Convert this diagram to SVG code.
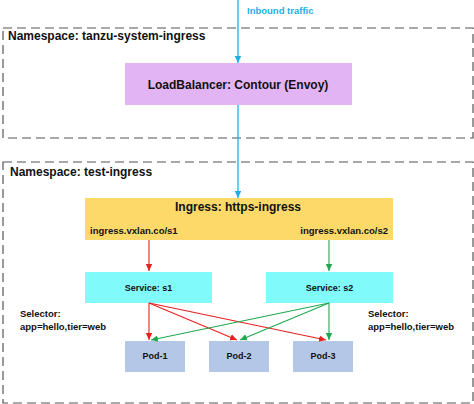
<svg xmlns="http://www.w3.org/2000/svg" width="474" height="404" viewBox="0 0 474 404">
<style>
text{font-family:"Liberation Sans",Arial,sans-serif;font-weight:bold;fill:#111}
.ns{fill:none;stroke:#555;stroke-width:1.2;stroke-dasharray:9 5}
.nst{font-size:12px}
.t12{font-size:12px;text-anchor:middle}
.t9{font-size:9px;text-anchor:middle}
.lbl{font-size:9.5px}
.blue{stroke:#1ab0e6;stroke-width:1.3;fill:none}
.red{stroke:#e82020;stroke-width:1.1;fill:none}
.green{stroke:#20a850;stroke-width:1.1;fill:none}
</style>
<defs>
<marker id="ab" markerUnits="userSpaceOnUse" markerWidth="8" markerHeight="8" refX="7" refY="4" orient="auto"><path d="M0,0.8 L7,4 L0,7.2 z" fill="#1ab0e6"/></marker>
<marker id="ar" markerUnits="userSpaceOnUse" markerWidth="8" markerHeight="8" refX="7" refY="4" orient="auto"><path d="M0,0.8 L7,4 L0,7.2 z" fill="#e82020"/></marker>
<marker id="ag" markerUnits="userSpaceOnUse" markerWidth="8" markerHeight="8" refX="7" refY="4" orient="auto"><path d="M0,0.8 L7,4 L0,7.2 z" fill="#20a850"/></marker>
</defs>
<g id="ns-tanzu">
<rect class="ns" x="3" y="28" width="470" height="110"/>
<text class="nst" x="8" y="40">Namespace: tanzu-system-ingress</text>
</g>
<g id="ns-test">
<rect class="ns" x="3" y="162" width="470" height="241"/>
<text class="nst" x="10" y="176">Namespace: test-ingress</text>
</g>
<g id="inbound">
<text class="lbl" x="247" y="14" style="fill:#1ab0e6">Inbound traffic</text>
</g>
<g id="lb">
<rect x="125" y="63" width="227" height="42" fill="#e2b4f4"/>
<text class="t12" x="238" y="89">LoadBalancer: Contour (Envoy)</text>
</g>
<g id="ingress">
<rect x="85" y="198" width="308" height="42" fill="#fdd96a"/>
<text class="t12" x="238" y="211">Ingress: https-ingress</text>
<text class="lbl" x="90" y="234">ingress.vxlan.co/s1</text>
<text class="lbl" x="388" y="234" text-anchor="end">ingress.vxlan.co/s2</text>
</g>
<g id="svc-s1">
<rect x="85" y="272" width="127" height="31" fill="#80fafa"/>
<text class="t9" x="148.5" y="291">Service: s1</text>
</g>
<g id="svc-s2">
<rect x="266" y="272" width="127" height="31" fill="#80fafa"/>
<text class="t9" x="329.5" y="291">Service: s2</text>
</g>
<g id="sel-left">
<text class="lbl" x="20" y="317">Selector:</text>
<text class="lbl" x="20" y="330">app=hello,tier=web</text>
</g>
<g id="sel-right">
<text class="lbl" x="368" y="317">Selector:</text>
<text class="lbl" x="368" y="330">app=hello,tier=web</text>
</g>
<g id="pod-1">
<rect x="125" y="341" width="60" height="31" fill="#b4c7e7"/>
<text class="t9" x="155" y="359">Pod-1</text>
</g>
<g id="pod-2">
<rect x="209" y="341" width="60" height="31" fill="#b4c7e7"/>
<text class="t9" x="239" y="359">Pod-2</text>
</g>
<g id="pod-3">
<rect x="293" y="341" width="60" height="31" fill="#b4c7e7"/>
<text class="t9" x="323" y="359">Pod-3</text>
</g>
<g id="connectors">
<line class="blue" x1="238" y1="0" x2="238" y2="63" marker-end="url(#ab)"/>
<line class="blue" x1="238" y1="105" x2="238" y2="198" marker-end="url(#ab)"/>
<line class="red" x1="149" y1="240" x2="149" y2="271" marker-end="url(#ar)"/>
<line class="green" x1="329" y1="240" x2="329" y2="271" marker-end="url(#ag)"/>
<line class="red" x1="149" y1="303" x2="149" y2="340" marker-end="url(#ar)"/>
<line class="red" x1="149" y1="303" x2="237" y2="340" marker-end="url(#ar)"/>
<line class="red" x1="149" y1="303" x2="326" y2="340" marker-end="url(#ar)"/>
<line class="green" x1="329" y1="303" x2="329" y2="340" marker-end="url(#ag)"/>
<line class="green" x1="329" y1="303" x2="240" y2="340" marker-end="url(#ag)"/>
<line class="green" x1="329" y1="303" x2="151" y2="340" marker-end="url(#ag)"/>
</g>
</svg>
